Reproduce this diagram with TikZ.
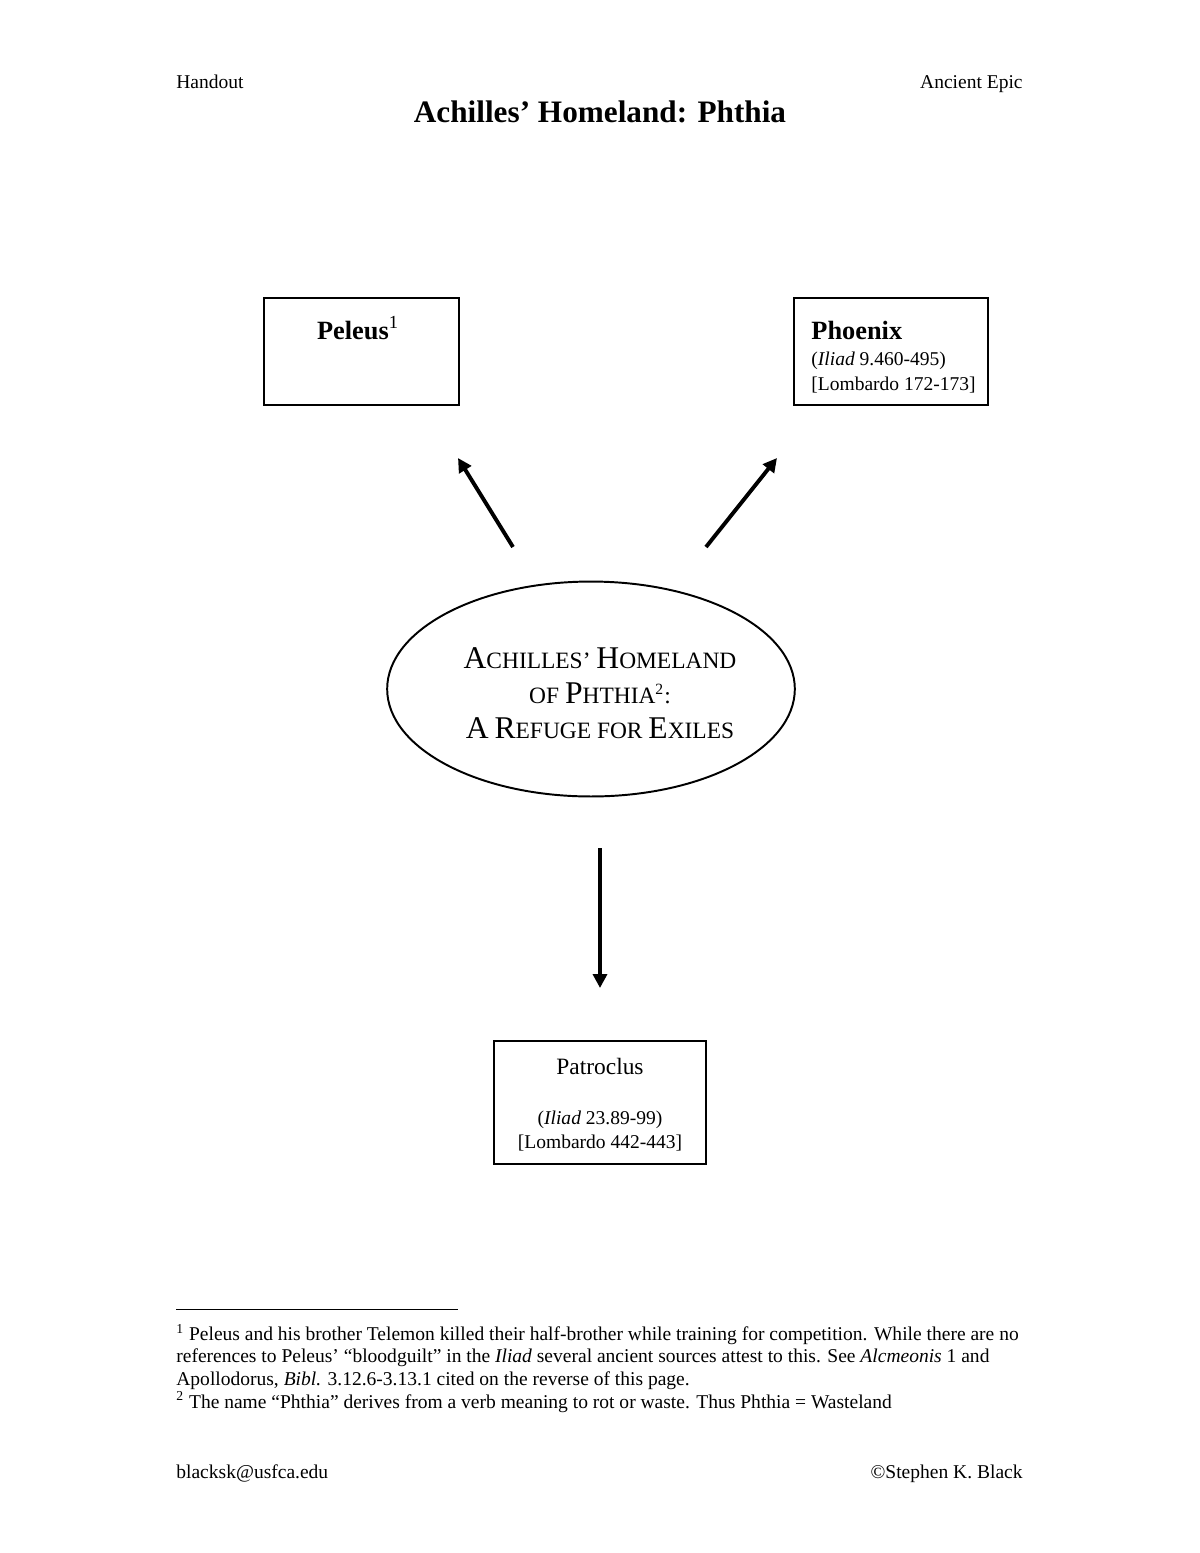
\documentclass[tikz,border=0pt]{standalone}
\usepackage{fontspec}
\setmainfont{Liberation Serif}
\usetikzlibrary{shapes.geometric,arrows.meta}

% fake small caps for the ellipse title
\newcommand{\bigletter}[1]{{\fontsize{16.2}{18}\selectfont #1}}

\tikzset{
  box/.style={draw, line width=1.4pt, inner sep=0pt},
  txt/.style={inner sep=0pt, anchor=base west},
  link/.style={line width=2pt, -{Triangle[length=2.5mm,width=2.5mm]}},
}

\begin{document}
\begin{tikzpicture}[x=0.018cm, y=-0.018cm]
\useasboundingbox (0,0) rectangle (1200,1553);

% header and title
\node[txt, font=\fontsize{10}{12}\selectfont] (hdleft) at (176,88) {Handout};
\node[txt, anchor=base east, font=\fontsize{10}{12}\selectfont] (hdright) at (1023,88) {Ancient Epic};
\node[txt, anchor=base, font=\fontsize{16}{19}\selectfont\bfseries] (title) at (600,122) {Achilles’ Homeland: Phthia};

% Peleus box
\node[box, minimum width=3.51cm, minimum height=1.926cm] (peleus) at (361.5,351.5) {};
\node[txt, anchor=base, font=\fontsize{13.5}{16}\selectfont\bfseries] (peleustxt) at (358,339) {Peleus\textsuperscript{\mdseries 1}};

% Phoenix box (multi-line nodes sit on their last baseline)
\node[box, minimum width=3.49cm, minimum height=1.926cm] (phoenix) at (891,351.5) {};
\node[txt, font=\fontsize{13.5}{16}\selectfont\bfseries] (phoenixtxt) at (811,339) {Phoenix};
\node[txt, align=left, font=\fontsize{10}{12.7}\selectfont] (phoenixref) at (811,390)
  {(\textit{Iliad} 9.460-495)\\{}[Lombardo 172-173]};

% central ellipse
\node[draw, ellipse, line width=1pt, minimum width=7.34cm, minimum height=3.87cm, inner sep=0pt] (home) at (591,689) {};
\node[txt, anchor=base, align=center, font=\fontsize{12}{17.8}\selectfont] (hometxt) at (600,738)
  {\bigletter{A}CHILLES’ \bigletter{H}OMELAND\\ OF \bigletter{P}HTHIA\textsuperscript{2}:\\ \bigletter{A} \bigletter{R}EFUGE FOR \bigletter{E}XILES};

% Patroclus box
\node[box, minimum width=3.816cm, minimum height=2.214cm] (patroclus) at (600,1102.5) {};
\node[txt, anchor=base, font=\fontsize{12}{14}\selectfont] (patroclustxt) at (600,1074) {Patroclus};
\node[txt, anchor=base, align=center, font=\fontsize{10}{12.3}\selectfont] (patroclusref) at (600,1148)
  {(\textit{Iliad} 23.89-99)\\{}[Lombardo 442-443]};

% arrows
\coordinate (toPel0) at (513,547);
\coordinate (toPel1) at (458,458);
\coordinate (toPho0) at (706,547);
\coordinate (toPho1) at (777,458);
\coordinate (toPat0) at (600,848);
\coordinate (toPat1) at (600,988);
\draw[link] (toPel0) -- (toPel1);
\draw[link] (toPho0) -- (toPho1);
\draw[link] (toPat0) -- (toPat1);

% footnotes
\coordinate (ruleA) at (176,1309);
\coordinate (ruleB) at (458,1309);
\draw[line width=0.5pt] (ruleA) -- (ruleB);
\node[txt, align=left, font=\fontsize{10}{11.6}\selectfont] (notes) at (176,1408)
  {\textsuperscript{1} Peleus and his brother Telemon killed their half-brother while training for competition. While there are no\\
   references to Peleus’ “bloodguilt” in the \textit{Iliad} several ancient sources attest to this. See \textit{Alcmeonis} 1 and\\
   Apollodorus, \textit{Bibl.} 3.12.6-3.13.1 cited on the reverse of this page.\\
   \textsuperscript{2} The name “Phthia” derives from a verb meaning to rot or waste. Thus Phthia = Wasteland};

% footer
\node[txt, font=\fontsize{10}{12}\selectfont] (ftleft) at (176,1478) {blacksk@usfca.edu};
\node[txt, anchor=base east, font=\fontsize{10}{12}\selectfont] (ftright) at (1023,1478) {©Stephen K. Black};
\end{tikzpicture}
\end{document}
